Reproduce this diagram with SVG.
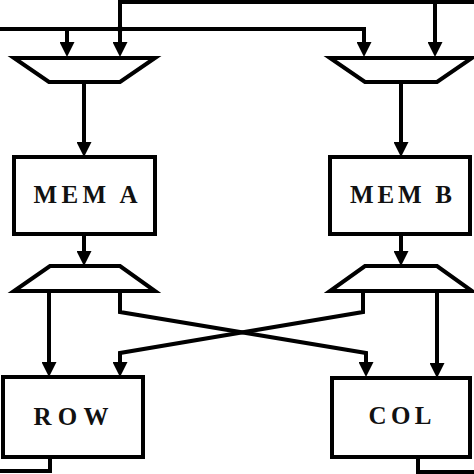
<svg xmlns="http://www.w3.org/2000/svg" width="474" height="474" viewBox="0 0 474 474">
<style>
.w{fill:none;stroke:#000;stroke-width:4;stroke-linejoin:miter}
.a{marker-end:url(#ah)}
.box{fill:#fff;stroke:#000;stroke-width:4}
.mux{fill:#fff;stroke:#000;stroke-width:4;stroke-linejoin:miter}
.t{font-family:"Liberation Serif","Times New Roman",serif;font-weight:bold;font-size:25px;fill:#111;text-anchor:middle}
</style>
<defs>
<marker id="ah" markerUnits="userSpaceOnUse" markerWidth="15" markerHeight="15" viewBox="0 0 15 15" refX="7" refY="7.5" orient="auto">
<path d="M0,0 L15,7.5 L0,15 z" fill="#000"/>
</marker>
</defs>
<rect width="474" height="474" fill="#fff"/>
<g id="connectors">
<path class="w" d="M120,29 V2 H474"/>
<path class="w" d="M0,29 H364"/>
<path class="w a" d="M364,27 V49"/>
<path class="w a" d="M67,29 V49"/>
<path class="w a" d="M120,29 V49"/>
<path class="w a" d="M435,2 V49"/>
<circle cx="120" cy="29" r="3" fill="#000"/>
<path class="w a" d="M84,82 V149"/>
<path class="w a" d="M401,82 V149"/>
<path class="w a" d="M84,234 V258"/>
<path class="w a" d="M401,234 V258"/>
<path class="w a" d="M49,291 V369"/>
<path class="w a" d="M120,291 V312 L366,353 V369"/>
<path class="w a" d="M363,291 V312 L120,353 V369"/>
<path class="w a" d="M437,291 V370"/>
<path class="w" d="M50,457 V471 H0"/>
<path class="w" d="M418,457 V472 H474"/>
</g>
<g id="muxA1"><polygon class="mux" points="14,58 155,58 120,82 49,82"/></g>
<g id="muxB1"><polygon class="mux" points="330,58 472,58 437,82 365,82"/></g>
<g id="memA"><rect class="box" x="14" y="157" width="141" height="77"/><text class="t" x="85.5" y="203" textLength="104" lengthAdjust="spacing">MEM A</text></g>
<g id="memB"><rect class="box" x="330" y="157" width="140" height="77"/><text class="t" x="401" y="203" textLength="102" lengthAdjust="spacing">MEM B</text></g>
<g id="muxA2"><polygon class="mux" points="50,266 120,266 155,291 14,291"/></g>
<g id="muxB2"><polygon class="mux" points="365,266 437,266 472,291 330,291"/></g>
<g id="row"><rect class="box" x="3" y="377" width="140" height="80"/><text class="t" x="71" y="425" textLength="75" lengthAdjust="spacing">ROW</text></g>
<g id="col"><rect class="box" x="332" y="378" width="138" height="79"/><text class="t" x="400" y="424" textLength="63" lengthAdjust="spacing">COL</text></g>
</svg>
